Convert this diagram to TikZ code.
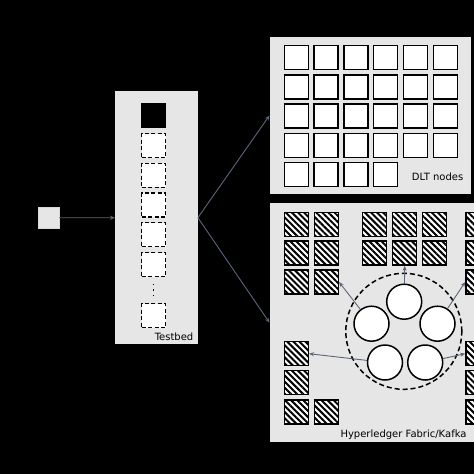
\documentclass[tikz,border=0pt]{standalone}
\usepackage{fontspec}
\setmainfont{DejaVu Sans}
\usepackage{tikz}
\usetikzlibrary{arrows.meta}
\usetikzlibrary{patterns.meta}
\usetikzlibrary{positioning}
\definecolor{arrowgray}{HTML}{5C6578}
\definecolor{panelgray}{HTML}{E6E6E6}

\begin{document}
\begin{tikzpicture}[x=1pt, y=-1pt]
    \tikzstyle{panel}=[fill=panelgray, inner sep=0pt, anchor=north west]
    \tikzstyle{box}=[draw, line width=1.5pt, minimum size=24pt, inner sep=0pt]
    \tikzstyle{slot}=[box, fill=white, dash pattern=on 4pt off 2.5pt]
    \tikzstyle{hatch}=[box, preaction={fill=white}, pattern={Lines[angle=-45, distance=4.3pt, line width=2pt]}]
    \tikzstyle{peer}=[draw, circle, line width=1.5pt, fill=white, minimum size=35pt, inner sep=0pt]
    \tikzstyle{lbl}=[inner sep=0pt, font=\fontsize{10}{12}\selectfont]
    \tikzstyle{conn}=[-{Stealth[length=5pt, width=4pt]}, line width=0.9pt, draw=arrowgray]

    % background and page
    \fill[black] (0,0) rectangle (474,474);
    \useasboundingbox (0,0) rectangle (474,474);

    % client and testbed
    \node[draw=white!85!black, line width=0.4pt, fill=panelgray, minimum size=21pt, inner sep=0pt] (client) at (48.3,217.8) {};
    \node[panel, minimum width=82.5pt, minimum height=253pt] (testbed) at (115,91) {};
    \node[lbl, anchor=base east] (tblabel) at (193.5,340.5) {Testbed};
    \node[box, fill=black] (tb0) at (153.5,115.5) {};
    \foreach \i/\y in {1/145.5, 2/175.3, 3/205, 4/234.7, 5/264.5, 6/315.5}
    {\node[slot] (tb\i) at (153.5,\y) {};}
    \foreach \y in {284.5, 290, 295.5}
    {\fill (152.6,\y-0.9) rectangle (154.4,\y+0.9);}

    % DLT nodes panel
    \node[panel, minimum width=201pt, minimum height=156.5pt] (dlt) at (269.5,37) {};
    \node[lbl, anchor=base east] (dltlabel) at (463.5,180) {DLT nodes};
    \foreach \c in {0,...,5}
    \foreach \r in {0,...,3}
    {\node[box, fill=white] (d\c\r) at (296.3+29.8*\c,57.7+29.25*\r) {};}
    \foreach \c in {0,...,3}
    {\node[box, fill=white] (d\c4) at (296.3+29.8*\c,174.7) {};}

    % Hyperledger Fabric/Kafka panel
    \node[panel, minimum width=220pt, minimum height=238.5pt] (hlf) at (269.5,203.2) {};
    \node[lbl, anchor=base east] (hlflabel) at (466.7,437.7) {Hyperledger Fabric/Kafka};
    \foreach \n/\x/\y in {ul1/296.3/224.7, ul2/326.3/224.7, ul3/296.3/253, ul4/326.3/253, ul5/296.3/282, ul6/326.3/282,
      um1/374.7/224.7, um2/404.7/224.7, um3/434.3/224.7, um4/374.7/253, um5/404.7/253, um6/434.3/253,
      ur1/478/224.7, ur2/478/253, ur3/478/282,
      ll1/296.3/353.7, ll2/296.3/382.7, ll3/296.3/412, ll4/326.3/412,
      lr1/478/353.7, lr2/478/382.7, lr3/478/412}
    {\node[hatch] (\n) at (\x,\y) {};}
    \node[draw, circle, dash pattern=on 5pt off 3pt, line width=1.5pt, minimum size=116pt, inner sep=0pt] (kafka) at (403.8,331.3) {};
    \node[peer] (k1) at (404.2,301.7) {};
    \node[peer] (k2) at (371.5,323.7) {};
    \node[peer] (k3) at (437.5,323.7) {};
    \node[peer] (k4) at (385,362.5) {};
    \node[peer] (k5) at (425.2,362.5) {};

    % connectors
    \draw[conn] (client) -- (testbed);
    \draw[conn] (testbed.east) -- (dlt.west);
    \draw[conn] (testbed.east) -- (hlf.west);
    \draw[conn] (k1) -- (um5.south);
    \draw[conn] (k2) -- (ul6.east);
    \draw[conn] (k3) -- (ur3.west);
    \draw[conn] (k4) -- (ll1.east);
    \draw[conn] (k5) -- (lr1.west);
\end{tikzpicture}
\end{document}
